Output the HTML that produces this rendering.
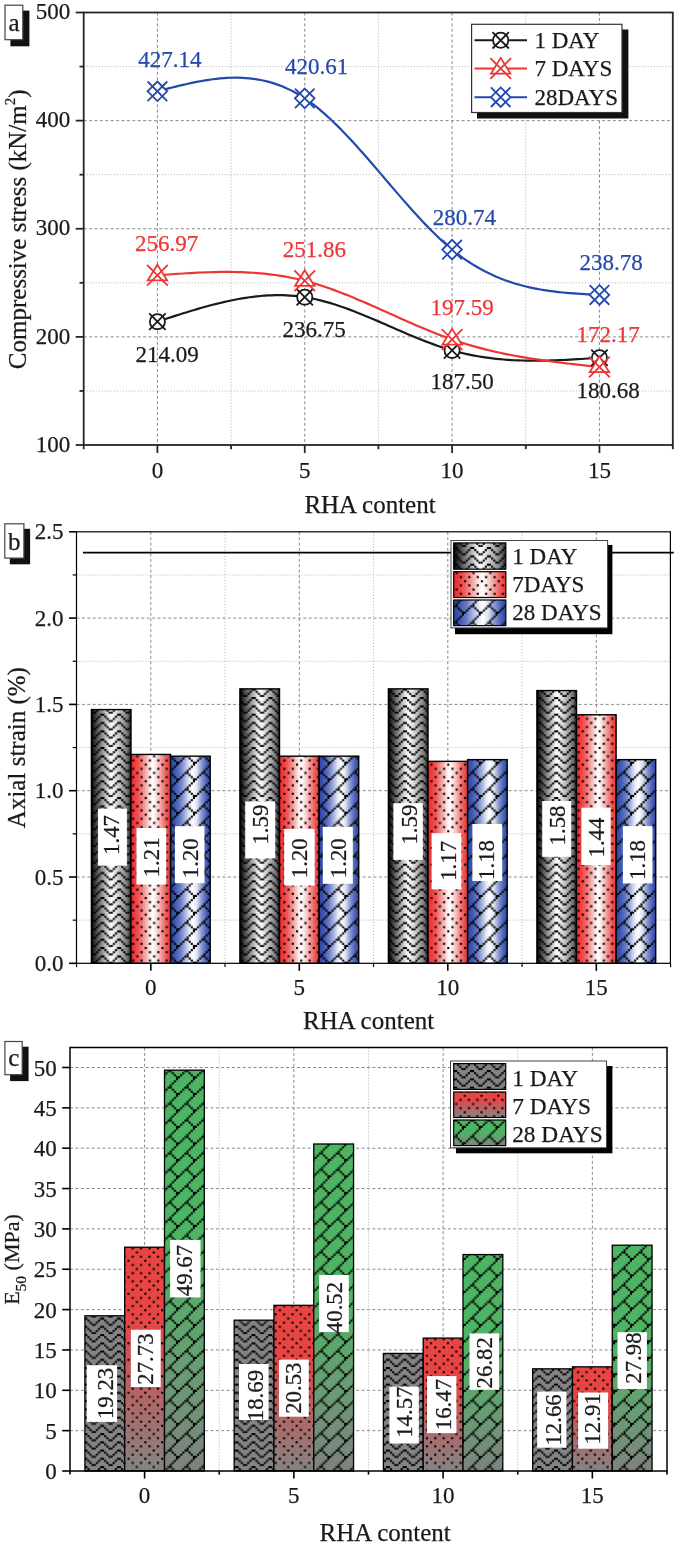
<!DOCTYPE html>
<html><head><meta charset="utf-8"><title>Compressive stress, axial strain and E50 vs RHA content</title>
<style>html,body{margin:0;padding:0;background:#fff;width:685px;height:1549px;overflow:hidden}text{stroke-width:0.25px}</style>
</head><body>
<svg width="685" height="1549" viewBox="0 0 685 1549" style="display:block;font-family:'Liberation Serif','Times New Roman',serif"><defs><pattern id="pz" patternUnits="userSpaceOnUse" x="1.5" y="13.55" width="16.81" height="16.67"><g fill="#000"><rect x="0" y="0" width="2.1" height="2.08"/><rect x="14.71" y="0" width="2.1" height="2.08"/><rect x="2.1" y="2.08" width="2.1" height="2.08"/><rect x="12.61" y="2.08" width="2.1" height="2.08"/><rect x="4.2" y="4.17" width="2.1" height="2.08"/><rect x="10.5" y="4.17" width="2.1" height="2.08"/><rect x="6.3" y="6.25" width="2.1" height="2.08"/><rect x="8.4" y="6.25" width="2.1" height="2.08"/><rect x="0" y="8.33" width="2.1" height="2.08"/><rect x="14.71" y="8.33" width="2.1" height="2.08"/><rect x="2.1" y="10.42" width="2.1" height="2.08"/><rect x="12.61" y="10.42" width="2.1" height="2.08"/><rect x="4.2" y="12.5" width="2.1" height="2.08"/><rect x="10.5" y="12.5" width="2.1" height="2.08"/><rect x="6.3" y="14.58" width="2.1" height="2.08"/><rect x="8.4" y="14.58" width="2.1" height="2.08"/></g></pattern><pattern id="pd" patternUnits="userSpaceOnUse" x="10.2" y="13.45" width="16.81" height="16.67"><g fill="#000"><rect x="0" y="0" width="2.1" height="2.08"/><rect x="4.2" y="4.17" width="2.1" height="2.08"/><rect x="12.61" y="4.17" width="2.1" height="2.08"/><rect x="8.4" y="8.33" width="2.1" height="2.08"/><rect x="4.2" y="12.5" width="2.1" height="2.08"/><rect x="12.61" y="12.5" width="2.1" height="2.08"/></g></pattern><pattern id="pb" patternUnits="userSpaceOnUse" x="10.05" y="13.5" width="16.81" height="16.67"><g fill="#000"><rect x="14.71" y="0" width="2.1" height="2.08"/><rect x="12.61" y="2.08" width="2.1" height="2.08"/><rect x="10.5" y="4.17" width="2.1" height="2.08"/><rect x="8.4" y="6.25" width="2.1" height="2.08"/><rect x="6.3" y="8.33" width="2.1" height="2.08"/><rect x="8.4" y="8.33" width="2.1" height="2.08"/><rect x="4.2" y="10.42" width="2.1" height="2.08"/><rect x="10.5" y="10.42" width="2.1" height="2.08"/><rect x="2.1" y="12.5" width="2.1" height="2.08"/><rect x="12.61" y="12.5" width="2.1" height="2.08"/><rect x="0" y="14.58" width="2.1" height="2.08"/><rect x="14.71" y="14.58" width="2.1" height="2.08"/></g></pattern><pattern id="qz" patternUnits="userSpaceOnUse" x="1.3" y="14.1" width="16.81" height="16.5"><g fill="#000"><rect x="0" y="0" width="2.1" height="2.06"/><rect x="14.71" y="0" width="2.1" height="2.06"/><rect x="2.1" y="2.06" width="2.1" height="2.06"/><rect x="12.61" y="2.06" width="2.1" height="2.06"/><rect x="4.2" y="4.12" width="2.1" height="2.06"/><rect x="10.5" y="4.12" width="2.1" height="2.06"/><rect x="6.3" y="6.19" width="2.1" height="2.06"/><rect x="8.4" y="6.19" width="2.1" height="2.06"/><rect x="0" y="8.25" width="2.1" height="2.06"/><rect x="14.71" y="8.25" width="2.1" height="2.06"/><rect x="2.1" y="10.31" width="2.1" height="2.06"/><rect x="12.61" y="10.31" width="2.1" height="2.06"/><rect x="4.2" y="12.38" width="2.1" height="2.06"/><rect x="10.5" y="12.38" width="2.1" height="2.06"/><rect x="6.3" y="14.44" width="2.1" height="2.06"/><rect x="8.4" y="14.44" width="2.1" height="2.06"/></g></pattern><pattern id="qd" patternUnits="userSpaceOnUse" x="9.8" y="5.75" width="16.81" height="16.5"><g fill="#000"><rect x="0" y="0" width="2.1" height="2.06"/><rect x="4.2" y="4.12" width="2.1" height="2.06"/><rect x="12.61" y="4.12" width="2.1" height="2.06"/><rect x="8.4" y="8.25" width="2.1" height="2.06"/><rect x="4.2" y="12.38" width="2.1" height="2.06"/><rect x="12.61" y="12.38" width="2.1" height="2.06"/></g></pattern><pattern id="qb" patternUnits="userSpaceOnUse" x="10" y="5.8" width="16.81" height="16.5"><g fill="#000"><rect x="14.71" y="0" width="2.1" height="2.06"/><rect x="12.61" y="2.06" width="2.1" height="2.06"/><rect x="10.5" y="4.12" width="2.1" height="2.06"/><rect x="8.4" y="6.19" width="2.1" height="2.06"/><rect x="6.3" y="8.25" width="2.1" height="2.06"/><rect x="8.4" y="8.25" width="2.1" height="2.06"/><rect x="4.2" y="10.31" width="2.1" height="2.06"/><rect x="10.5" y="10.31" width="2.1" height="2.06"/><rect x="2.1" y="12.38" width="2.1" height="2.06"/><rect x="12.61" y="12.38" width="2.1" height="2.06"/><rect x="0" y="14.44" width="2.1" height="2.06"/><rect x="14.71" y="14.44" width="2.1" height="2.06"/></g></pattern><linearGradient id="gk" x1="0" x2="1" y1="0" y2="0"><stop offset="0" stop-color="#000"/><stop offset="0.03" stop-color="#101010"/><stop offset="0.11" stop-color="#404040"/><stop offset="0.19" stop-color="#6a6a6a"/><stop offset="0.28" stop-color="#959595"/><stop offset="0.36" stop-color="#bdbdbd"/><stop offset="0.44" stop-color="#e6e6e6"/><stop offset="0.51" stop-color="#fafafa"/><stop offset="0.57" stop-color="#f0f0f0"/><stop offset="0.65" stop-color="#d6d6d6"/><stop offset="0.76" stop-color="#b0b0b0"/><stop offset="0.86" stop-color="#8a8a8a"/><stop offset="0.92" stop-color="#6a6a6a"/><stop offset="0.97" stop-color="#3a3a3a"/><stop offset="1" stop-color="#222"/></linearGradient><linearGradient id="gr" x1="0" x2="1" y1="0" y2="0"><stop offset="0" stop-color="#ee2a2e"/><stop offset="0.1" stop-color="#f03c3e"/><stop offset="0.2" stop-color="#f05858"/><stop offset="0.3" stop-color="#f38888"/><stop offset="0.4" stop-color="#f7baba"/><stop offset="0.48" stop-color="#fde8e8"/><stop offset="0.55" stop-color="#fff"/><stop offset="0.62" stop-color="#fde6e6"/><stop offset="0.7" stop-color="#f8c0c0"/><stop offset="0.8" stop-color="#f38888"/><stop offset="0.9" stop-color="#f05555"/><stop offset="1" stop-color="#ee3535"/></linearGradient><linearGradient id="gbl" x1="0" x2="1" y1="0" y2="0"><stop offset="0" stop-color="#2846a6"/><stop offset="0.1" stop-color="#3a56b0"/><stop offset="0.24" stop-color="#6878c4"/><stop offset="0.36" stop-color="#a4b0e0"/><stop offset="0.47" stop-color="#e4e8f6"/><stop offset="0.56" stop-color="#fff"/><stop offset="0.66" stop-color="#e0e4f4"/><stop offset="0.78" stop-color="#8c9ad2"/><stop offset="0.9" stop-color="#4c64b8"/><stop offset="1" stop-color="#2846a6"/></linearGradient><linearGradient id="cr" x1="0" x2="0" y1="0" y2="1"><stop offset="0" stop-color="#e84444"/><stop offset="0.3" stop-color="#e84444"/><stop offset="1" stop-color="#848484"/></linearGradient><linearGradient id="cg" x1="0" x2="0" y1="0" y2="1"><stop offset="0" stop-color="#4db462"/><stop offset="0.45" stop-color="#4db462"/><stop offset="0.75" stop-color="#699c73"/><stop offset="1" stop-color="#7e827e"/></linearGradient></defs><rect width="685" height="1549" fill="#fff"/><line x1="83.7" y1="390.94" x2="672.8" y2="390.94" stroke="#bdbdbd" stroke-width="1" stroke-dasharray="1.2 1.8"/><line x1="83.7" y1="282.82" x2="672.8" y2="282.82" stroke="#bdbdbd" stroke-width="1" stroke-dasharray="1.2 1.8"/><line x1="83.7" y1="174.7" x2="672.8" y2="174.7" stroke="#bdbdbd" stroke-width="1" stroke-dasharray="1.2 1.8"/><line x1="83.7" y1="66.58" x2="672.8" y2="66.58" stroke="#bdbdbd" stroke-width="1" stroke-dasharray="1.2 1.8"/><line x1="83.7" y1="336.88" x2="672.8" y2="336.88" stroke="#8a8a8a" stroke-width="1" stroke-dasharray="3 2.4"/><line x1="83.7" y1="228.76" x2="672.8" y2="228.76" stroke="#8a8a8a" stroke-width="1" stroke-dasharray="3 2.4"/><line x1="83.7" y1="120.64" x2="672.8" y2="120.64" stroke="#8a8a8a" stroke-width="1" stroke-dasharray="3 2.4"/><line x1="231.07" y1="12.5" x2="231.07" y2="445" stroke="#bdbdbd" stroke-width="1" stroke-dasharray="1.2 1.8"/><line x1="378.42" y1="12.5" x2="378.42" y2="445" stroke="#bdbdbd" stroke-width="1" stroke-dasharray="1.2 1.8"/><line x1="525.77" y1="12.5" x2="525.77" y2="445" stroke="#bdbdbd" stroke-width="1" stroke-dasharray="1.2 1.8"/><line x1="157.4" y1="12.5" x2="157.4" y2="445" stroke="#8a8a8a" stroke-width="1" stroke-dasharray="3 2.4"/><line x1="304.75" y1="12.5" x2="304.75" y2="445" stroke="#8a8a8a" stroke-width="1" stroke-dasharray="3 2.4"/><line x1="452.1" y1="12.5" x2="452.1" y2="445" stroke="#8a8a8a" stroke-width="1" stroke-dasharray="3 2.4"/><line x1="599.45" y1="12.5" x2="599.45" y2="445" stroke="#8a8a8a" stroke-width="1" stroke-dasharray="3 2.4"/>
<path d="M157.4 321.65 L161.08 320.44 L164.77 319.23 L168.45 318.03 L172.13 316.84 L175.82 315.66 L179.5 314.48 L183.19 313.32 L186.87 312.18 L190.55 311.05 L194.24 309.94 L197.92 308.86 L201.61 307.8 L205.29 306.77 L208.97 305.76 L212.66 304.79 L216.34 303.85 L220.02 302.95 L223.71 302.08 L227.39 301.26 L231.07 300.47 L234.76 299.74 L238.44 299.04 L242.13 298.4 L245.81 297.81 L249.49 297.27 L253.18 296.79 L256.86 296.37 L260.55 296 L264.23 295.7 L267.91 295.46 L271.6 295.29 L275.28 295.19 L278.96 295.16 L282.65 295.21 L286.33 295.33 L290.01 295.53 L293.7 295.81 L297.38 296.17 L301.07 296.61 L304.75 297.15 L308.43 297.77 L312.12 298.47 L315.8 299.26 L319.49 300.13 L323.17 301.07 L326.85 302.08 L330.54 303.15 L334.22 304.29 L337.9 305.48 L341.59 306.73 L345.27 308.03 L348.96 309.38 L352.64 310.77 L356.32 312.2 L360.01 313.67 L363.69 315.16 L367.37 316.68 L371.06 318.23 L374.74 319.8 L378.42 321.38 L382.11 322.97 L385.79 324.58 L389.48 326.18 L393.16 327.79 L396.84 329.39 L400.53 330.99 L404.21 332.57 L407.89 334.14 L411.58 335.69 L415.26 337.22 L418.95 338.72 L422.63 340.19 L426.31 341.63 L430 343.03 L433.68 344.38 L437.37 345.69 L441.05 346.95 L444.73 348.16 L448.42 349.31 L452.1 350.39 L455.78 351.42 L459.47 352.38 L463.15 353.27 L466.84 354.11 L470.52 354.89 L474.2 355.61 L477.89 356.27 L481.57 356.89 L485.25 357.44 L488.94 357.95 L492.62 358.41 L496.3 358.82 L499.99 359.19 L503.67 359.51 L507.36 359.79 L511.04 360.03 L514.72 360.23 L518.41 360.39 L522.09 360.52 L525.77 360.61 L529.46 360.67 L533.14 360.7 L536.83 360.7 L540.51 360.67 L544.19 360.62 L547.88 360.54 L551.56 360.43 L555.25 360.31 L558.93 360.17 L562.61 360.01 L566.3 359.83 L569.98 359.64 L573.66 359.43 L577.35 359.22 L581.03 358.99 L584.72 358.76 L588.4 358.51 L592.08 358.27 L595.77 358.02 L599.45 357.77" fill="none" stroke="#1a1a1a" stroke-width="2.2"/>
<path d="M157.4 275.28 L161.08 275.02 L164.77 274.75 L168.45 274.49 L172.13 274.23 L175.82 273.97 L179.5 273.73 L183.19 273.49 L186.87 273.27 L190.55 273.06 L194.24 272.86 L197.92 272.67 L201.61 272.5 L205.29 272.36 L208.97 272.23 L212.66 272.12 L216.34 272.03 L220.02 271.97 L223.71 271.94 L227.39 271.93 L231.07 271.95 L234.76 272 L238.44 272.09 L242.13 272.21 L245.81 272.36 L249.49 272.55 L253.18 272.77 L256.86 273.04 L260.55 273.35 L264.23 273.7 L267.91 274.09 L271.6 274.54 L275.28 275.02 L278.96 275.56 L282.65 276.15 L286.33 276.79 L290.01 277.48 L293.7 278.22 L297.38 279.03 L301.07 279.89 L304.75 280.81 L308.43 281.79 L312.12 282.83 L315.8 283.92 L319.49 285.07 L323.17 286.27 L326.85 287.52 L330.54 288.81 L334.22 290.14 L337.9 291.51 L341.59 292.93 L345.27 294.37 L348.96 295.85 L352.64 297.35 L356.32 298.89 L360.01 300.45 L363.69 302.02 L367.37 303.62 L371.06 305.24 L374.74 306.86 L378.42 308.5 L382.11 310.15 L385.79 311.8 L389.48 313.45 L393.16 315.11 L396.84 316.76 L400.53 318.41 L404.21 320.05 L407.89 321.68 L411.58 323.3 L415.26 324.9 L418.95 326.48 L422.63 328.05 L426.31 329.59 L430 331.1 L433.68 332.58 L437.37 334.04 L441.05 335.46 L444.73 336.84 L448.42 338.18 L452.1 339.49 L455.78 340.74 L459.47 341.96 L463.15 343.13 L466.84 344.26 L470.52 345.35 L474.2 346.41 L477.89 347.42 L481.57 348.4 L485.25 349.34 L488.94 350.25 L492.62 351.12 L496.3 351.97 L499.99 352.78 L503.67 353.56 L507.36 354.31 L511.04 355.03 L514.72 355.73 L518.41 356.4 L522.09 357.05 L525.77 357.68 L529.46 358.28 L533.14 358.86 L536.83 359.42 L540.51 359.96 L544.19 360.49 L547.88 360.99 L551.56 361.49 L555.25 361.96 L558.93 362.43 L562.61 362.88 L566.3 363.32 L569.98 363.75 L573.66 364.17 L577.35 364.59 L581.03 364.99 L584.72 365.4 L588.4 365.79 L592.08 366.19 L595.77 366.58 L599.45 366.97" fill="none" stroke="#ee3535" stroke-width="2.2"/>
<path d="M157.4 91.3 L161.08 90.34 L164.77 89.38 L168.45 88.43 L172.13 87.5 L175.82 86.58 L179.5 85.68 L183.19 84.81 L186.87 83.97 L190.55 83.17 L194.24 82.4 L197.92 81.67 L201.61 80.99 L205.29 80.36 L208.97 79.79 L212.66 79.28 L216.34 78.83 L220.02 78.45 L223.71 78.14 L227.39 77.91 L231.07 77.76 L234.76 77.7 L238.44 77.72 L242.13 77.84 L245.81 78.06 L249.49 78.38 L253.18 78.81 L256.86 79.34 L260.55 79.99 L264.23 80.77 L267.91 81.66 L271.6 82.68 L275.28 83.84 L278.96 85.13 L282.65 86.56 L286.33 88.14 L290.01 89.87 L293.7 91.75 L297.38 93.79 L301.07 95.99 L304.75 98.36 L308.43 100.89 L312.12 103.59 L315.8 106.44 L319.49 109.44 L323.17 112.58 L326.85 115.86 L330.54 119.25 L334.22 122.76 L337.9 126.38 L341.59 130.1 L345.27 133.91 L348.96 137.81 L352.64 141.78 L356.32 145.83 L360.01 149.93 L363.69 154.09 L367.37 158.29 L371.06 162.53 L374.74 166.8 L378.42 171.1 L382.11 175.4 L385.79 179.72 L389.48 184.03 L393.16 188.34 L396.84 192.62 L400.53 196.88 L404.21 201.11 L407.89 205.3 L411.58 209.44 L415.26 213.53 L418.95 217.55 L422.63 221.5 L426.31 225.37 L430 229.15 L433.68 232.84 L437.37 236.43 L441.05 239.9 L444.73 243.26 L448.42 246.49 L452.1 249.58 L455.78 252.54 L459.47 255.36 L463.15 258.04 L466.84 260.59 L470.52 263.02 L474.2 265.31 L477.89 267.49 L481.57 269.56 L485.25 271.5 L488.94 273.34 L492.62 275.07 L496.3 276.7 L499.99 278.23 L503.67 279.67 L507.36 281.01 L511.04 282.26 L514.72 283.43 L518.41 284.52 L522.09 285.52 L525.77 286.46 L529.46 287.32 L533.14 288.12 L536.83 288.85 L540.51 289.52 L544.19 290.13 L547.88 290.69 L551.56 291.21 L555.25 291.67 L558.93 292.09 L562.61 292.48 L566.3 292.83 L569.98 293.14 L573.66 293.43 L577.35 293.69 L581.03 293.94 L584.72 294.16 L588.4 294.37 L592.08 294.57 L595.77 294.76 L599.45 294.95" fill="none" stroke="#2449ad" stroke-width="2.2"/>
<circle cx="157.4" cy="321.65" r="7.6" fill="#fff" stroke="#1a1a1a" stroke-width="1.8"/><path d="M149.2 313.45L165.6 329.85M149.2 329.85L165.6 313.45" stroke="#1a1a1a" stroke-width="1.8" fill="none"/>
<circle cx="304.75" cy="297.15" r="7.6" fill="#fff" stroke="#1a1a1a" stroke-width="1.8"/><path d="M296.55 288.95L312.95 305.35M296.55 305.35L312.95 288.95" stroke="#1a1a1a" stroke-width="1.8" fill="none"/>
<circle cx="452.1" cy="350.39" r="7.6" fill="#fff" stroke="#1a1a1a" stroke-width="1.8"/><path d="M443.9 342.19L460.3 358.59M443.9 358.59L460.3 342.19" stroke="#1a1a1a" stroke-width="1.8" fill="none"/>
<circle cx="599.45" cy="357.77" r="7.6" fill="#fff" stroke="#1a1a1a" stroke-width="1.8"/><path d="M591.25 349.57L607.65 365.97M591.25 365.97L607.65 349.57" stroke="#1a1a1a" stroke-width="1.8" fill="none"/>
<path d="M157.4 264.68L167.1 280.38L147.7 280.38Z" fill="#fff" stroke="#ee3535" stroke-width="1.8"/><path d="M147 264.88L167.8 285.68M147 285.68L167.8 264.88" stroke="#ee3535" stroke-width="1.8" fill="none"/>
<path d="M304.75 270.21L314.45 285.91L295.05 285.91Z" fill="#fff" stroke="#ee3535" stroke-width="1.8"/><path d="M294.35 270.41L315.15 291.21M294.35 291.21L315.15 270.41" stroke="#ee3535" stroke-width="1.8" fill="none"/>
<path d="M452.1 328.89L461.8 344.59L442.4 344.59Z" fill="#fff" stroke="#ee3535" stroke-width="1.8"/><path d="M441.7 329.09L462.5 349.89M441.7 349.89L462.5 329.09" stroke="#ee3535" stroke-width="1.8" fill="none"/>
<path d="M599.45 356.37L609.15 372.07L589.75 372.07Z" fill="#fff" stroke="#ee3535" stroke-width="1.8"/><path d="M589.05 356.57L609.85 377.37M589.05 377.37L609.85 356.57" stroke="#ee3535" stroke-width="1.8" fill="none"/>
<path d="M157.4 81.5L167.2 91.3L157.4 101.1L147.6 91.3Z" fill="#fff" stroke="#2449ad" stroke-width="1.8"/><path d="M147.6 81.5L167.2 101.1M147.6 101.1L167.2 81.5" stroke="#2449ad" stroke-width="1.8" fill="none"/>
<path d="M304.75 88.56L314.55 98.36L304.75 108.16L294.95 98.36Z" fill="#fff" stroke="#2449ad" stroke-width="1.8"/><path d="M294.95 88.56L314.55 108.16M294.95 108.16L314.55 88.56" stroke="#2449ad" stroke-width="1.8" fill="none"/>
<path d="M452.1 239.78L461.9 249.58L452.1 259.38L442.3 249.58Z" fill="#fff" stroke="#2449ad" stroke-width="1.8"/><path d="M442.3 239.78L461.9 259.38M442.3 259.38L461.9 239.78" stroke="#2449ad" stroke-width="1.8" fill="none"/>
<path d="M599.45 285.15L609.25 294.95L599.45 304.75L589.65 294.95Z" fill="#fff" stroke="#2449ad" stroke-width="1.8"/><path d="M589.65 285.15L609.25 304.75M589.65 304.75L609.25 285.15" stroke="#2449ad" stroke-width="1.8" fill="none"/>
<rect x="83.7" y="12.5" width="589.1" height="432.5" fill="none" stroke="#262626" stroke-width="1.8"/>
<line x1="75.7" y1="445" x2="83.7" y2="445" stroke="#262626" stroke-width="1.8"/><line x1="75.7" y1="336.88" x2="83.7" y2="336.88" stroke="#262626" stroke-width="1.8"/><line x1="75.7" y1="228.76" x2="83.7" y2="228.76" stroke="#262626" stroke-width="1.8"/><line x1="75.7" y1="120.64" x2="83.7" y2="120.64" stroke="#262626" stroke-width="1.8"/><line x1="75.7" y1="12.52" x2="83.7" y2="12.52" stroke="#262626" stroke-width="1.8"/><line x1="79.5" y1="390.94" x2="83.7" y2="390.94" stroke="#262626" stroke-width="1.8"/><line x1="79.5" y1="282.82" x2="83.7" y2="282.82" stroke="#262626" stroke-width="1.8"/><line x1="79.5" y1="174.7" x2="83.7" y2="174.7" stroke="#262626" stroke-width="1.8"/><line x1="79.5" y1="66.58" x2="83.7" y2="66.58" stroke="#262626" stroke-width="1.8"/><line x1="157.4" y1="445" x2="157.4" y2="453" stroke="#262626" stroke-width="1.8"/><line x1="304.75" y1="445" x2="304.75" y2="453" stroke="#262626" stroke-width="1.8"/><line x1="452.1" y1="445" x2="452.1" y2="453" stroke="#262626" stroke-width="1.8"/><line x1="599.45" y1="445" x2="599.45" y2="453" stroke="#262626" stroke-width="1.8"/><line x1="231.07" y1="445" x2="231.07" y2="449.2" stroke="#262626" stroke-width="1.8"/><line x1="378.42" y1="445" x2="378.42" y2="449.2" stroke="#262626" stroke-width="1.8"/><line x1="525.77" y1="445" x2="525.77" y2="449.2" stroke="#262626" stroke-width="1.8"/><line x1="83.7" y1="445" x2="83.7" y2="449.2" stroke="#262626" stroke-width="1.8"/><line x1="672.8" y1="445" x2="672.8" y2="449.2" stroke="#262626" stroke-width="1.8"/>
<text x="70.3" y="451.7" font-size="23" text-anchor="end" fill="#1a1a1a" stroke="#1a1a1a">100</text>
<text x="70.3" y="343.58" font-size="23" text-anchor="end" fill="#1a1a1a" stroke="#1a1a1a">200</text>
<text x="70.3" y="235.46" font-size="23" text-anchor="end" fill="#1a1a1a" stroke="#1a1a1a">300</text>
<text x="70.3" y="127.34" font-size="23" text-anchor="end" fill="#1a1a1a" stroke="#1a1a1a">400</text>
<text x="70.3" y="19.22" font-size="23" text-anchor="end" fill="#1a1a1a" stroke="#1a1a1a">500</text>
<text x="157.4" y="478" font-size="23" text-anchor="middle" fill="#1a1a1a" stroke="#1a1a1a">0</text>
<text x="304.75" y="478" font-size="23" text-anchor="middle" fill="#1a1a1a" stroke="#1a1a1a">5</text>
<text x="452.1" y="478" font-size="23" text-anchor="middle" fill="#1a1a1a" stroke="#1a1a1a">10</text>
<text x="599.45" y="478" font-size="23" text-anchor="middle" fill="#1a1a1a" stroke="#1a1a1a">15</text>
<text x="370" y="513.2" font-size="25" text-anchor="middle" fill="#1a1a1a" stroke="#1a1a1a">RHA content</text>
<text transform="translate(25.5 229.3) rotate(-90)" x="0" y="0" font-size="25" text-anchor="middle" fill="#1a1a1a" stroke="#1a1a1a">Compressive stress (kN/m<tspan font-size="15" dy="-10.3">2</tspan><tspan dy="10.3">)</tspan></text>
<text x="169.8" y="67.3" font-size="23" text-anchor="middle" fill="#2449ad" stroke="#2449ad">427.14</text>
<text x="316.6" y="74.3" font-size="23" text-anchor="middle" fill="#2449ad" stroke="#2449ad">420.61</text>
<text x="464.4" y="225.2" font-size="23" text-anchor="middle" fill="#2449ad" stroke="#2449ad">280.74</text>
<text x="611" y="270" font-size="23" text-anchor="middle" fill="#2449ad" stroke="#2449ad">238.78</text>
<text x="166.6" y="251.2" font-size="23" text-anchor="middle" fill="#ee3535" stroke="#ee3535">256.97</text>
<text x="314.4" y="256.8" font-size="23" text-anchor="middle" fill="#ee3535" stroke="#ee3535">251.86</text>
<text x="462" y="315.2" font-size="23" text-anchor="middle" fill="#ee3535" stroke="#ee3535">197.59</text>
<text x="608" y="342" font-size="23" text-anchor="middle" fill="#ee3535" stroke="#ee3535">172.17</text>
<text x="167" y="362" font-size="23" text-anchor="middle" fill="#1a1a1a" stroke="#1a1a1a">214.09</text>
<text x="314" y="336.8" font-size="23" text-anchor="middle" fill="#1a1a1a" stroke="#1a1a1a">236.75</text>
<text x="462" y="388.8" font-size="23" text-anchor="middle" fill="#1a1a1a" stroke="#1a1a1a">187.50</text>
<text x="608" y="398" font-size="23" text-anchor="middle" fill="#1a1a1a" stroke="#1a1a1a">180.68</text>
<rect x="477" y="29.5" width="151.4" height="89" fill="#111"/>
<rect x="471.6" y="24.3" width="150.4" height="88.2" fill="#fff" stroke="#333" stroke-width="1.2"/>
<line x1="474.5" y1="40.3" x2="527" y2="40.3" stroke="#1a1a1a" stroke-width="2"/>
<circle cx="500.7" cy="40.3" r="7.6" fill="#fff" stroke="#1a1a1a" stroke-width="1.8"/><path d="M492.5 32.1L508.9 48.5M492.5 48.5L508.9 32.1" stroke="#1a1a1a" stroke-width="1.8" fill="none"/>
<text x="534.5" y="47.9" font-size="23" text-anchor="start" fill="#1a1a1a" stroke="#1a1a1a">1 DAY</text>
<line x1="474.5" y1="68.5" x2="527" y2="68.5" stroke="#ee3535" stroke-width="2"/>
<path d="M500.7 57.9L510.4 73.6L491 73.6Z" fill="#fff" stroke="#ee3535" stroke-width="1.8"/><path d="M490.3 58.1L511.1 78.9M490.3 78.9L511.1 58.1" stroke="#ee3535" stroke-width="1.8" fill="none"/>
<text x="534.5" y="76.1" font-size="23" text-anchor="start" fill="#1a1a1a" stroke="#1a1a1a">7 DAYS</text>
<line x1="474.5" y1="97.2" x2="527" y2="97.2" stroke="#2449ad" stroke-width="2"/>
<path d="M500.7 87.4L510.5 97.2L500.7 107L490.9 97.2Z" fill="#fff" stroke="#2449ad" stroke-width="1.8"/><path d="M490.9 87.4L510.5 107M490.9 107L510.5 87.4" stroke="#2449ad" stroke-width="1.8" fill="none"/>
<text x="534.5" y="104.8" font-size="23" text-anchor="start" fill="#1a1a1a" stroke="#1a1a1a">28DAYS</text>
<rect x="10.4" y="10.6" width="19" height="35.7" fill="#111"/><rect x="5" y="5.2" width="17.8" height="34.5" fill="#fff" stroke="#444" stroke-width="1.2"/><text x="14" y="30.6" font-size="25" text-anchor="middle" fill="#1a1a1a" stroke="#1a1a1a">a</text>
<line x1="76.5" y1="920.15" x2="670.4" y2="920.15" stroke="#bdbdbd" stroke-width="1" stroke-dasharray="1.2 1.8"/><line x1="76.5" y1="833.85" x2="670.4" y2="833.85" stroke="#bdbdbd" stroke-width="1" stroke-dasharray="1.2 1.8"/><line x1="76.5" y1="747.55" x2="670.4" y2="747.55" stroke="#bdbdbd" stroke-width="1" stroke-dasharray="1.2 1.8"/><line x1="76.5" y1="661.25" x2="670.4" y2="661.25" stroke="#bdbdbd" stroke-width="1" stroke-dasharray="1.2 1.8"/><line x1="76.5" y1="574.95" x2="670.4" y2="574.95" stroke="#bdbdbd" stroke-width="1" stroke-dasharray="1.2 1.8"/><line x1="76.5" y1="877" x2="670.4" y2="877" stroke="#8a8a8a" stroke-width="1" stroke-dasharray="3 2.4"/><line x1="76.5" y1="790.7" x2="670.4" y2="790.7" stroke="#8a8a8a" stroke-width="1" stroke-dasharray="3 2.4"/><line x1="76.5" y1="704.4" x2="670.4" y2="704.4" stroke="#8a8a8a" stroke-width="1" stroke-dasharray="3 2.4"/><line x1="76.5" y1="618.1" x2="670.4" y2="618.1" stroke="#8a8a8a" stroke-width="1" stroke-dasharray="3 2.4"/><line x1="225.05" y1="531.8" x2="225.05" y2="963.3" stroke="#bdbdbd" stroke-width="1" stroke-dasharray="1.2 1.8"/><line x1="373.55" y1="531.8" x2="373.55" y2="963.3" stroke="#bdbdbd" stroke-width="1" stroke-dasharray="1.2 1.8"/><line x1="522.05" y1="531.8" x2="522.05" y2="963.3" stroke="#bdbdbd" stroke-width="1" stroke-dasharray="1.2 1.8"/><line x1="150.8" y1="531.8" x2="150.8" y2="963.3" stroke="#8a8a8a" stroke-width="1" stroke-dasharray="3 2.4"/><line x1="299.3" y1="531.8" x2="299.3" y2="963.3" stroke="#8a8a8a" stroke-width="1" stroke-dasharray="3 2.4"/><line x1="447.8" y1="531.8" x2="447.8" y2="963.3" stroke="#8a8a8a" stroke-width="1" stroke-dasharray="3 2.4"/><line x1="596.3" y1="531.8" x2="596.3" y2="963.3" stroke="#8a8a8a" stroke-width="1" stroke-dasharray="3 2.4"/>
<rect x="91.4" y="709.58" width="39.6" height="253.72" fill="url(#gk)"/>
<rect x="91.4" y="709.58" width="39.6" height="253.72" fill="url(#pz)"/>
<rect x="91.4" y="709.58" width="39.6" height="253.72" fill="none" stroke="#000" stroke-width="1.4"/>
<rect x="131" y="754.45" width="39.6" height="208.85" fill="url(#gr)"/>
<rect x="131" y="754.45" width="39.6" height="208.85" fill="url(#pd)"/>
<rect x="131" y="754.45" width="39.6" height="208.85" fill="none" stroke="#000" stroke-width="1.4"/>
<rect x="170.6" y="756.18" width="39.6" height="207.12" fill="url(#gbl)"/>
<rect x="170.6" y="756.18" width="39.6" height="207.12" fill="url(#pb)"/>
<rect x="170.6" y="756.18" width="39.6" height="207.12" fill="none" stroke="#000" stroke-width="1.4"/>
<rect x="239.9" y="688.87" width="39.6" height="274.43" fill="url(#gk)"/>
<rect x="239.9" y="688.87" width="39.6" height="274.43" fill="url(#pz)"/>
<rect x="239.9" y="688.87" width="39.6" height="274.43" fill="none" stroke="#000" stroke-width="1.4"/>
<rect x="279.5" y="756.18" width="39.6" height="207.12" fill="url(#gr)"/>
<rect x="279.5" y="756.18" width="39.6" height="207.12" fill="url(#pd)"/>
<rect x="279.5" y="756.18" width="39.6" height="207.12" fill="none" stroke="#000" stroke-width="1.4"/>
<rect x="319.1" y="756.18" width="39.6" height="207.12" fill="url(#gbl)"/>
<rect x="319.1" y="756.18" width="39.6" height="207.12" fill="url(#pb)"/>
<rect x="319.1" y="756.18" width="39.6" height="207.12" fill="none" stroke="#000" stroke-width="1.4"/>
<rect x="388.4" y="688.87" width="39.6" height="274.43" fill="url(#gk)"/>
<rect x="388.4" y="688.87" width="39.6" height="274.43" fill="url(#pz)"/>
<rect x="388.4" y="688.87" width="39.6" height="274.43" fill="none" stroke="#000" stroke-width="1.4"/>
<rect x="428" y="761.36" width="39.6" height="201.94" fill="url(#gr)"/>
<rect x="428" y="761.36" width="39.6" height="201.94" fill="url(#pd)"/>
<rect x="428" y="761.36" width="39.6" height="201.94" fill="none" stroke="#000" stroke-width="1.4"/>
<rect x="467.6" y="759.63" width="39.6" height="203.67" fill="url(#gbl)"/>
<rect x="467.6" y="759.63" width="39.6" height="203.67" fill="url(#pb)"/>
<rect x="467.6" y="759.63" width="39.6" height="203.67" fill="none" stroke="#000" stroke-width="1.4"/>
<rect x="536.9" y="690.59" width="39.6" height="272.71" fill="url(#gk)"/>
<rect x="536.9" y="690.59" width="39.6" height="272.71" fill="url(#pz)"/>
<rect x="536.9" y="690.59" width="39.6" height="272.71" fill="none" stroke="#000" stroke-width="1.4"/>
<rect x="576.5" y="714.76" width="39.6" height="248.54" fill="url(#gr)"/>
<rect x="576.5" y="714.76" width="39.6" height="248.54" fill="url(#pd)"/>
<rect x="576.5" y="714.76" width="39.6" height="248.54" fill="none" stroke="#000" stroke-width="1.4"/>
<rect x="616.1" y="759.63" width="39.6" height="203.67" fill="url(#gbl)"/>
<rect x="616.1" y="759.63" width="39.6" height="203.67" fill="url(#pb)"/>
<rect x="616.1" y="759.63" width="39.6" height="203.67" fill="none" stroke="#000" stroke-width="1.4"/>
<rect x="98" y="808.6" width="28.9" height="57.1" fill="#fff"/>
<text transform="translate(111.9 834.94) rotate(-90)" x="0" y="7.52" font-size="22.8" text-anchor="middle" fill="#1a1a1a" stroke="#1a1a1a">1.47</text>
<rect x="136.5" y="828" width="29.7" height="56.5" fill="#fff"/>
<text transform="translate(151.3 857.38) rotate(-90)" x="0" y="7.52" font-size="22.8" text-anchor="middle" fill="#1a1a1a" stroke="#1a1a1a">1.21</text>
<rect x="174.9" y="826.2" width="29.5" height="57" fill="#fff"/>
<text transform="translate(190.4 858.24) rotate(-90)" x="0" y="7.52" font-size="22.8" text-anchor="middle" fill="#1a1a1a" stroke="#1a1a1a">1.20</text>
<rect x="245.2" y="801.4" width="30" height="57" fill="#fff"/>
<text transform="translate(260.85 824.58) rotate(-90)" x="0" y="7.52" font-size="22.8" text-anchor="middle" fill="#1a1a1a" stroke="#1a1a1a">1.59</text>
<rect x="284.2" y="829" width="30.5" height="56.6" fill="#fff"/>
<text transform="translate(299 858.24) rotate(-90)" x="0" y="7.52" font-size="22.8" text-anchor="middle" fill="#1a1a1a" stroke="#1a1a1a">1.20</text>
<rect x="322.8" y="826.8" width="30" height="57" fill="#fff"/>
<text transform="translate(338.5 858.24) rotate(-90)" x="0" y="7.52" font-size="22.8" text-anchor="middle" fill="#1a1a1a" stroke="#1a1a1a">1.20</text>
<rect x="393.4" y="803.2" width="29.4" height="56.7" fill="#fff"/>
<text transform="translate(409.9 824.58) rotate(-90)" x="0" y="7.52" font-size="22.8" text-anchor="middle" fill="#1a1a1a" stroke="#1a1a1a">1.59</text>
<rect x="431.6" y="833.2" width="29.8" height="56.1" fill="#fff"/>
<text transform="translate(448 860.83) rotate(-90)" x="0" y="7.52" font-size="22.8" text-anchor="middle" fill="#1a1a1a" stroke="#1a1a1a">1.17</text>
<rect x="472.4" y="824" width="29.8" height="57" fill="#fff"/>
<text transform="translate(486.3 859.97) rotate(-90)" x="0" y="7.52" font-size="22.8" text-anchor="middle" fill="#1a1a1a" stroke="#1a1a1a">1.18</text>
<rect x="542.2" y="801" width="29" height="55.8" fill="#fff"/>
<text transform="translate(557 825.45) rotate(-90)" x="0" y="7.52" font-size="22.8" text-anchor="middle" fill="#1a1a1a" stroke="#1a1a1a">1.58</text>
<rect x="581.4" y="807.7" width="29.2" height="57.3" fill="#fff"/>
<text transform="translate(596.9 837.53) rotate(-90)" x="0" y="7.52" font-size="22.8" text-anchor="middle" fill="#1a1a1a" stroke="#1a1a1a">1.44</text>
<rect x="622.9" y="826.1" width="29.6" height="57.3" fill="#fff"/>
<text transform="translate(637.7 859.97) rotate(-90)" x="0" y="7.52" font-size="22.8" text-anchor="middle" fill="#1a1a1a" stroke="#1a1a1a">1.18</text>
<line x1="83" y1="552.6" x2="673.8" y2="552.6" stroke="#000" stroke-width="1.6"/>
<rect x="76.5" y="531.8" width="593.9" height="431.5" fill="none" stroke="#000" stroke-width="1.2"/>
<line x1="69" y1="963.3" x2="76.5" y2="963.3" stroke="#000" stroke-width="1.6"/><line x1="69" y1="877" x2="76.5" y2="877" stroke="#000" stroke-width="1.6"/><line x1="69" y1="790.7" x2="76.5" y2="790.7" stroke="#000" stroke-width="1.6"/><line x1="69" y1="704.4" x2="76.5" y2="704.4" stroke="#000" stroke-width="1.6"/><line x1="69" y1="618.1" x2="76.5" y2="618.1" stroke="#000" stroke-width="1.6"/><line x1="69" y1="531.8" x2="76.5" y2="531.8" stroke="#000" stroke-width="1.6"/><line x1="72.7" y1="920.15" x2="76.5" y2="920.15" stroke="#000" stroke-width="1.2"/><line x1="72.7" y1="833.85" x2="76.5" y2="833.85" stroke="#000" stroke-width="1.2"/><line x1="72.7" y1="747.55" x2="76.5" y2="747.55" stroke="#000" stroke-width="1.2"/><line x1="72.7" y1="661.25" x2="76.5" y2="661.25" stroke="#000" stroke-width="1.2"/><line x1="72.7" y1="574.95" x2="76.5" y2="574.95" stroke="#000" stroke-width="1.2"/><line x1="150.8" y1="963.3" x2="150.8" y2="970.8" stroke="#000" stroke-width="1.6"/><line x1="299.3" y1="963.3" x2="299.3" y2="970.8" stroke="#000" stroke-width="1.6"/><line x1="447.8" y1="963.3" x2="447.8" y2="970.8" stroke="#000" stroke-width="1.6"/><line x1="596.3" y1="963.3" x2="596.3" y2="970.8" stroke="#000" stroke-width="1.6"/><line x1="76.55" y1="963.3" x2="76.55" y2="967.1" stroke="#000" stroke-width="1.2"/><line x1="225.05" y1="963.3" x2="225.05" y2="967.1" stroke="#000" stroke-width="1.2"/><line x1="373.55" y1="963.3" x2="373.55" y2="967.1" stroke="#000" stroke-width="1.2"/><line x1="522.05" y1="963.3" x2="522.05" y2="967.1" stroke="#000" stroke-width="1.2"/><line x1="670.55" y1="963.3" x2="670.55" y2="967.1" stroke="#000" stroke-width="1.2"/>
<text x="63.6" y="970.9" font-size="23" text-anchor="end" fill="#1a1a1a" stroke="#1a1a1a">0.0</text>
<text x="63.6" y="884.6" font-size="23" text-anchor="end" fill="#1a1a1a" stroke="#1a1a1a">0.5</text>
<text x="63.6" y="798.3" font-size="23" text-anchor="end" fill="#1a1a1a" stroke="#1a1a1a">1.0</text>
<text x="63.6" y="712" font-size="23" text-anchor="end" fill="#1a1a1a" stroke="#1a1a1a">1.5</text>
<text x="63.6" y="625.7" font-size="23" text-anchor="end" fill="#1a1a1a" stroke="#1a1a1a">2.0</text>
<text x="63.6" y="539.4" font-size="23" text-anchor="end" fill="#1a1a1a" stroke="#1a1a1a">2.5</text>
<text x="150.8" y="995" font-size="23" text-anchor="middle" fill="#1a1a1a" stroke="#1a1a1a">0</text>
<text x="299.3" y="995" font-size="23" text-anchor="middle" fill="#1a1a1a" stroke="#1a1a1a">5</text>
<text x="447.8" y="995" font-size="23" text-anchor="middle" fill="#1a1a1a" stroke="#1a1a1a">10</text>
<text x="596.3" y="995" font-size="23" text-anchor="middle" fill="#1a1a1a" stroke="#1a1a1a">15</text>
<text x="368.6" y="1028.8" font-size="25" text-anchor="middle" fill="#1a1a1a" stroke="#1a1a1a">RHA content</text>
<text transform="translate(24.8 747.6) rotate(-90)" x="0" y="0" font-size="25" text-anchor="middle" fill="#1a1a1a" stroke="#1a1a1a">Axial strain (%)</text>
<rect x="455" y="545" width="157.4" height="89.2" fill="#000"/>
<rect x="451" y="540.5" width="156.6" height="87.4" fill="#fff" stroke="#444" stroke-width="1"/>
<rect x="453.7" y="542.9" width="52.1" height="26.3" fill="url(#gk)"/>
<rect x="453.7" y="542.9" width="52.1" height="26.3" fill="url(#pz)"/>
<rect x="453.7" y="542.9" width="52.1" height="26.3" fill="none" stroke="#000" stroke-width="1.2"/>
<text x="512.3" y="563.65" font-size="23" text-anchor="start" fill="#1a1a1a" stroke="#1a1a1a">1 DAY</text>
<rect x="453.7" y="571.7" width="52.1" height="25.8" fill="url(#gr)"/>
<rect x="453.7" y="571.7" width="52.1" height="25.8" fill="url(#pd)"/>
<rect x="453.7" y="571.7" width="52.1" height="25.8" fill="none" stroke="#000" stroke-width="1.2"/>
<text x="512.3" y="592.2" font-size="23" text-anchor="start" fill="#1a1a1a" stroke="#1a1a1a">7DAYS</text>
<rect x="453.7" y="600" width="52.1" height="25.6" fill="url(#gbl)"/>
<rect x="453.7" y="600" width="52.1" height="25.6" fill="url(#pb)"/>
<rect x="453.7" y="600" width="52.1" height="25.6" fill="none" stroke="#000" stroke-width="1.2"/>
<text x="512.3" y="620.4" font-size="23" text-anchor="start" fill="#1a1a1a" stroke="#1a1a1a">28 DAYS</text>
<rect x="9.8" y="528.8" width="20.3" height="35.5" fill="#111"/><rect x="4.8" y="523.8" width="19.1" height="34.3" fill="#fff" stroke="#444" stroke-width="1.2"/><text x="14.2" y="550.2" font-size="25" text-anchor="middle" fill="#1a1a1a" stroke="#1a1a1a">b</text>
<line x1="70" y1="1430.65" x2="667" y2="1430.65" stroke="#8a8a8a" stroke-width="1" stroke-dasharray="3 2.4"/><line x1="70" y1="1390.3" x2="667" y2="1390.3" stroke="#8a8a8a" stroke-width="1" stroke-dasharray="3 2.4"/><line x1="70" y1="1349.95" x2="667" y2="1349.95" stroke="#8a8a8a" stroke-width="1" stroke-dasharray="3 2.4"/><line x1="70" y1="1309.6" x2="667" y2="1309.6" stroke="#8a8a8a" stroke-width="1" stroke-dasharray="3 2.4"/><line x1="70" y1="1269.25" x2="667" y2="1269.25" stroke="#8a8a8a" stroke-width="1" stroke-dasharray="3 2.4"/><line x1="70" y1="1228.9" x2="667" y2="1228.9" stroke="#8a8a8a" stroke-width="1" stroke-dasharray="3 2.4"/><line x1="70" y1="1188.55" x2="667" y2="1188.55" stroke="#8a8a8a" stroke-width="1" stroke-dasharray="3 2.4"/><line x1="70" y1="1148.2" x2="667" y2="1148.2" stroke="#8a8a8a" stroke-width="1" stroke-dasharray="3 2.4"/><line x1="70" y1="1107.85" x2="667" y2="1107.85" stroke="#8a8a8a" stroke-width="1" stroke-dasharray="3 2.4"/><line x1="70" y1="1067.5" x2="667" y2="1067.5" stroke="#8a8a8a" stroke-width="1" stroke-dasharray="3 2.4"/><line x1="219.22" y1="1047.5" x2="219.22" y2="1471" stroke="#bdbdbd" stroke-width="1" stroke-dasharray="1.2 1.8"/><line x1="368.48" y1="1047.5" x2="368.48" y2="1471" stroke="#bdbdbd" stroke-width="1" stroke-dasharray="1.2 1.8"/><line x1="517.73" y1="1047.5" x2="517.73" y2="1471" stroke="#bdbdbd" stroke-width="1" stroke-dasharray="1.2 1.8"/><line x1="144.6" y1="1047.5" x2="144.6" y2="1471" stroke="#8a8a8a" stroke-width="1" stroke-dasharray="3 2.4"/><line x1="293.85" y1="1047.5" x2="293.85" y2="1471" stroke="#8a8a8a" stroke-width="1" stroke-dasharray="3 2.4"/><line x1="443.1" y1="1047.5" x2="443.1" y2="1471" stroke="#8a8a8a" stroke-width="1" stroke-dasharray="3 2.4"/><line x1="592.35" y1="1047.5" x2="592.35" y2="1471" stroke="#8a8a8a" stroke-width="1" stroke-dasharray="3 2.4"/>
<rect x="84.9" y="1315.81" width="39.8" height="155.19" fill="#848484"/>
<rect x="84.9" y="1315.81" width="39.8" height="155.19" fill="url(#qz)"/>
<rect x="84.9" y="1315.81" width="39.8" height="155.19" fill="none" stroke="#000" stroke-width="1.3"/>
<rect x="124.7" y="1247.22" width="39.8" height="223.78" fill="url(#cr)"/>
<rect x="124.7" y="1247.22" width="39.8" height="223.78" fill="url(#qd)"/>
<rect x="124.7" y="1247.22" width="39.8" height="223.78" fill="none" stroke="#000" stroke-width="1.3"/>
<rect x="164.5" y="1070.16" width="39.8" height="400.84" fill="url(#cg)"/>
<rect x="164.5" y="1070.16" width="39.8" height="400.84" fill="url(#qb)"/>
<rect x="164.5" y="1070.16" width="39.8" height="400.84" fill="none" stroke="#000" stroke-width="1.3"/>
<rect x="234.15" y="1320.17" width="39.8" height="150.83" fill="#848484"/>
<rect x="234.15" y="1320.17" width="39.8" height="150.83" fill="url(#qz)"/>
<rect x="234.15" y="1320.17" width="39.8" height="150.83" fill="none" stroke="#000" stroke-width="1.3"/>
<rect x="273.95" y="1305.32" width="39.8" height="165.68" fill="url(#cr)"/>
<rect x="273.95" y="1305.32" width="39.8" height="165.68" fill="url(#qd)"/>
<rect x="273.95" y="1305.32" width="39.8" height="165.68" fill="none" stroke="#000" stroke-width="1.3"/>
<rect x="313.75" y="1144" width="39.8" height="327" fill="url(#cg)"/>
<rect x="313.75" y="1144" width="39.8" height="327" fill="url(#qb)"/>
<rect x="313.75" y="1144" width="39.8" height="327" fill="none" stroke="#000" stroke-width="1.3"/>
<rect x="383.4" y="1353.42" width="39.8" height="117.58" fill="#848484"/>
<rect x="383.4" y="1353.42" width="39.8" height="117.58" fill="url(#qz)"/>
<rect x="383.4" y="1353.42" width="39.8" height="117.58" fill="none" stroke="#000" stroke-width="1.3"/>
<rect x="423.2" y="1338.09" width="39.8" height="132.91" fill="url(#cr)"/>
<rect x="423.2" y="1338.09" width="39.8" height="132.91" fill="url(#qd)"/>
<rect x="423.2" y="1338.09" width="39.8" height="132.91" fill="none" stroke="#000" stroke-width="1.3"/>
<rect x="463" y="1254.56" width="39.8" height="216.44" fill="url(#cg)"/>
<rect x="463" y="1254.56" width="39.8" height="216.44" fill="url(#qb)"/>
<rect x="463" y="1254.56" width="39.8" height="216.44" fill="none" stroke="#000" stroke-width="1.3"/>
<rect x="532.65" y="1368.83" width="39.8" height="102.17" fill="#848484"/>
<rect x="532.65" y="1368.83" width="39.8" height="102.17" fill="url(#qz)"/>
<rect x="532.65" y="1368.83" width="39.8" height="102.17" fill="none" stroke="#000" stroke-width="1.3"/>
<rect x="572.45" y="1366.82" width="39.8" height="104.18" fill="url(#cr)"/>
<rect x="572.45" y="1366.82" width="39.8" height="104.18" fill="url(#qd)"/>
<rect x="572.45" y="1366.82" width="39.8" height="104.18" fill="none" stroke="#000" stroke-width="1.3"/>
<rect x="612.25" y="1245.2" width="39.8" height="225.8" fill="url(#cg)"/>
<rect x="612.25" y="1245.2" width="39.8" height="225.8" fill="url(#qb)"/>
<rect x="612.25" y="1245.2" width="39.8" height="225.8" fill="none" stroke="#000" stroke-width="1.3"/>
<rect x="86.8" y="1365.2" width="30.3" height="56.7" fill="#fff"/>
<text transform="translate(105 1393.41) rotate(-90)" x="0" y="7.52" font-size="22.8" text-anchor="middle" fill="#1a1a1a" stroke="#1a1a1a">19.23</text>
<rect x="130.9" y="1329.7" width="29.8" height="57.3" fill="#fff"/>
<text transform="translate(145.2 1359.11) rotate(-90)" x="0" y="7.52" font-size="22.8" text-anchor="middle" fill="#1a1a1a" stroke="#1a1a1a">27.73</text>
<rect x="170.1" y="1239.9" width="30.4" height="57.5" fill="#fff"/>
<text transform="translate(184.4 1270.58) rotate(-90)" x="0" y="7.52" font-size="22.8" text-anchor="middle" fill="#1a1a1a" stroke="#1a1a1a">49.67</text>
<rect x="239" y="1364" width="29.6" height="56" fill="#fff"/>
<text transform="translate(255.5 1395.59) rotate(-90)" x="0" y="7.52" font-size="22.8" text-anchor="middle" fill="#1a1a1a" stroke="#1a1a1a">18.69</text>
<rect x="279" y="1359.6" width="29.8" height="57.1" fill="#fff"/>
<text transform="translate(293.9 1388.16) rotate(-90)" x="0" y="7.52" font-size="22.8" text-anchor="middle" fill="#1a1a1a" stroke="#1a1a1a">20.53</text>
<rect x="319.1" y="1275" width="29.7" height="57.1" fill="#fff"/>
<text transform="translate(334 1307.5) rotate(-90)" x="0" y="7.52" font-size="22.8" text-anchor="middle" fill="#1a1a1a" stroke="#1a1a1a">40.52</text>
<rect x="389.4" y="1386.6" width="29.4" height="56.9" fill="#fff"/>
<text transform="translate(404.1 1412.21) rotate(-90)" x="0" y="7.52" font-size="22.8" text-anchor="middle" fill="#1a1a1a" stroke="#1a1a1a">14.57</text>
<rect x="427" y="1376.1" width="29.4" height="57" fill="#fff"/>
<text transform="translate(443.5 1404.54) rotate(-90)" x="0" y="7.52" font-size="22.8" text-anchor="middle" fill="#1a1a1a" stroke="#1a1a1a">16.47</text>
<rect x="469.5" y="1333.4" width="29.6" height="56.4" fill="#fff"/>
<text transform="translate(484.3 1362.78) rotate(-90)" x="0" y="7.52" font-size="22.8" text-anchor="middle" fill="#1a1a1a" stroke="#1a1a1a">26.82</text>
<rect x="537.2" y="1391.5" width="29.2" height="56.2" fill="#fff"/>
<text transform="translate(553 1419.92) rotate(-90)" x="0" y="7.52" font-size="22.8" text-anchor="middle" fill="#1a1a1a" stroke="#1a1a1a">12.66</text>
<rect x="578.1" y="1392.5" width="30" height="56.2" fill="#fff"/>
<text transform="translate(592.4 1418.91) rotate(-90)" x="0" y="7.52" font-size="22.8" text-anchor="middle" fill="#1a1a1a" stroke="#1a1a1a">12.91</text>
<rect x="617.5" y="1332.2" width="29.4" height="56.8" fill="#fff"/>
<text transform="translate(633.3 1358.1) rotate(-90)" x="0" y="7.52" font-size="22.8" text-anchor="middle" fill="#1a1a1a" stroke="#1a1a1a">27.98</text>
<rect x="70" y="1047.5" width="597" height="423.5" fill="none" stroke="#000" stroke-width="1.5"/>
<line x1="62.2" y1="1471" x2="70" y2="1471" stroke="#000" stroke-width="1.6"/><line x1="62.2" y1="1430.65" x2="70" y2="1430.65" stroke="#000" stroke-width="1.6"/><line x1="62.2" y1="1390.3" x2="70" y2="1390.3" stroke="#000" stroke-width="1.6"/><line x1="62.2" y1="1349.95" x2="70" y2="1349.95" stroke="#000" stroke-width="1.6"/><line x1="62.2" y1="1309.6" x2="70" y2="1309.6" stroke="#000" stroke-width="1.6"/><line x1="62.2" y1="1269.25" x2="70" y2="1269.25" stroke="#000" stroke-width="1.6"/><line x1="62.2" y1="1228.9" x2="70" y2="1228.9" stroke="#000" stroke-width="1.6"/><line x1="62.2" y1="1188.55" x2="70" y2="1188.55" stroke="#000" stroke-width="1.6"/><line x1="62.2" y1="1148.2" x2="70" y2="1148.2" stroke="#000" stroke-width="1.6"/><line x1="62.2" y1="1107.85" x2="70" y2="1107.85" stroke="#000" stroke-width="1.6"/><line x1="62.2" y1="1067.5" x2="70" y2="1067.5" stroke="#000" stroke-width="1.6"/><line x1="144.6" y1="1471" x2="144.6" y2="1478.5" stroke="#000" stroke-width="1.6"/><line x1="293.85" y1="1471" x2="293.85" y2="1478.5" stroke="#000" stroke-width="1.6"/><line x1="443.1" y1="1471" x2="443.1" y2="1478.5" stroke="#000" stroke-width="1.6"/><line x1="592.35" y1="1471" x2="592.35" y2="1478.5" stroke="#000" stroke-width="1.6"/><line x1="69.97" y1="1471" x2="69.97" y2="1474.6" stroke="#000" stroke-width="1.6"/><line x1="219.22" y1="1471" x2="219.22" y2="1474.6" stroke="#000" stroke-width="1.6"/><line x1="368.48" y1="1471" x2="368.48" y2="1474.6" stroke="#000" stroke-width="1.6"/><line x1="517.73" y1="1471" x2="517.73" y2="1474.6" stroke="#000" stroke-width="1.6"/><line x1="666.98" y1="1471" x2="666.98" y2="1474.6" stroke="#000" stroke-width="1.6"/>
<text x="56.7" y="1479" font-size="23" text-anchor="end" fill="#1a1a1a" stroke="#1a1a1a">0</text>
<text x="56.7" y="1438.65" font-size="23" text-anchor="end" fill="#1a1a1a" stroke="#1a1a1a">5</text>
<text x="56.7" y="1398.3" font-size="23" text-anchor="end" fill="#1a1a1a" stroke="#1a1a1a">10</text>
<text x="56.7" y="1357.95" font-size="23" text-anchor="end" fill="#1a1a1a" stroke="#1a1a1a">15</text>
<text x="56.7" y="1317.6" font-size="23" text-anchor="end" fill="#1a1a1a" stroke="#1a1a1a">20</text>
<text x="56.7" y="1277.25" font-size="23" text-anchor="end" fill="#1a1a1a" stroke="#1a1a1a">25</text>
<text x="56.7" y="1236.9" font-size="23" text-anchor="end" fill="#1a1a1a" stroke="#1a1a1a">30</text>
<text x="56.7" y="1196.55" font-size="23" text-anchor="end" fill="#1a1a1a" stroke="#1a1a1a">35</text>
<text x="56.7" y="1156.2" font-size="23" text-anchor="end" fill="#1a1a1a" stroke="#1a1a1a">40</text>
<text x="56.7" y="1115.85" font-size="23" text-anchor="end" fill="#1a1a1a" stroke="#1a1a1a">45</text>
<text x="56.7" y="1075.5" font-size="23" text-anchor="end" fill="#1a1a1a" stroke="#1a1a1a">50</text>
<text x="144.6" y="1503" font-size="23" text-anchor="middle" fill="#1a1a1a" stroke="#1a1a1a">0</text>
<text x="293.85" y="1503" font-size="23" text-anchor="middle" fill="#1a1a1a" stroke="#1a1a1a">5</text>
<text x="443.1" y="1503" font-size="23" text-anchor="middle" fill="#1a1a1a" stroke="#1a1a1a">10</text>
<text x="592.35" y="1503" font-size="23" text-anchor="middle" fill="#1a1a1a" stroke="#1a1a1a">15</text>
<text x="385.2" y="1541" font-size="25" text-anchor="middle" fill="#1a1a1a" stroke="#1a1a1a">RHA content</text>
<text transform="translate(18.6 1259.5) rotate(-90)" x="0" y="0" font-size="22" text-anchor="middle" fill="#1a1a1a" stroke="#1a1a1a">E<tspan font-size="15.5" dy="7.2">50</tspan><tspan dy="-7.2"> (MPa)</tspan></text>
<rect x="456" y="1066" width="156.4" height="87.3" fill="#000"/>
<rect x="450.5" y="1061" width="156" height="86.8" fill="#fff" stroke="#444" stroke-width="1"/>
<rect x="453.7" y="1063.6" width="52" height="25.8" fill="#848484"/>
<rect x="453.7" y="1063.6" width="52" height="25.8" fill="url(#qz)"/>
<rect x="453.7" y="1063.6" width="52" height="25.8" fill="none" stroke="#000" stroke-width="1.2"/>
<text x="512.2" y="1085.5" font-size="23.3" text-anchor="start" fill="#1a1a1a" stroke="#1a1a1a">1 DAY</text>
<rect x="453.7" y="1092" width="52" height="25.5" fill="url(#cr)"/>
<rect x="453.7" y="1092" width="52" height="25.5" fill="url(#qd)"/>
<rect x="453.7" y="1092" width="52" height="25.5" fill="none" stroke="#000" stroke-width="1.2"/>
<text x="512.2" y="1113.75" font-size="23.3" text-anchor="start" fill="#1a1a1a" stroke="#1a1a1a">7 DAYS</text>
<rect x="453.7" y="1120" width="52" height="25.6" fill="url(#cg)"/>
<rect x="453.7" y="1120" width="52" height="25.6" fill="url(#qb)"/>
<rect x="453.7" y="1120" width="52" height="25.6" fill="none" stroke="#000" stroke-width="1.2"/>
<text x="512.2" y="1141.8" font-size="23.3" text-anchor="start" fill="#1a1a1a" stroke="#1a1a1a">28 DAYS</text>
<rect x="10.1" y="1046.7" width="18.5" height="34.4" fill="#111"/><rect x="4.9" y="1041.5" width="17.3" height="33.2" fill="#fff" stroke="#444" stroke-width="1.2"/><text x="13.7" y="1065.5" font-size="25" text-anchor="middle" fill="#1a1a1a" stroke="#1a1a1a">c</text></svg>
</body></html>
